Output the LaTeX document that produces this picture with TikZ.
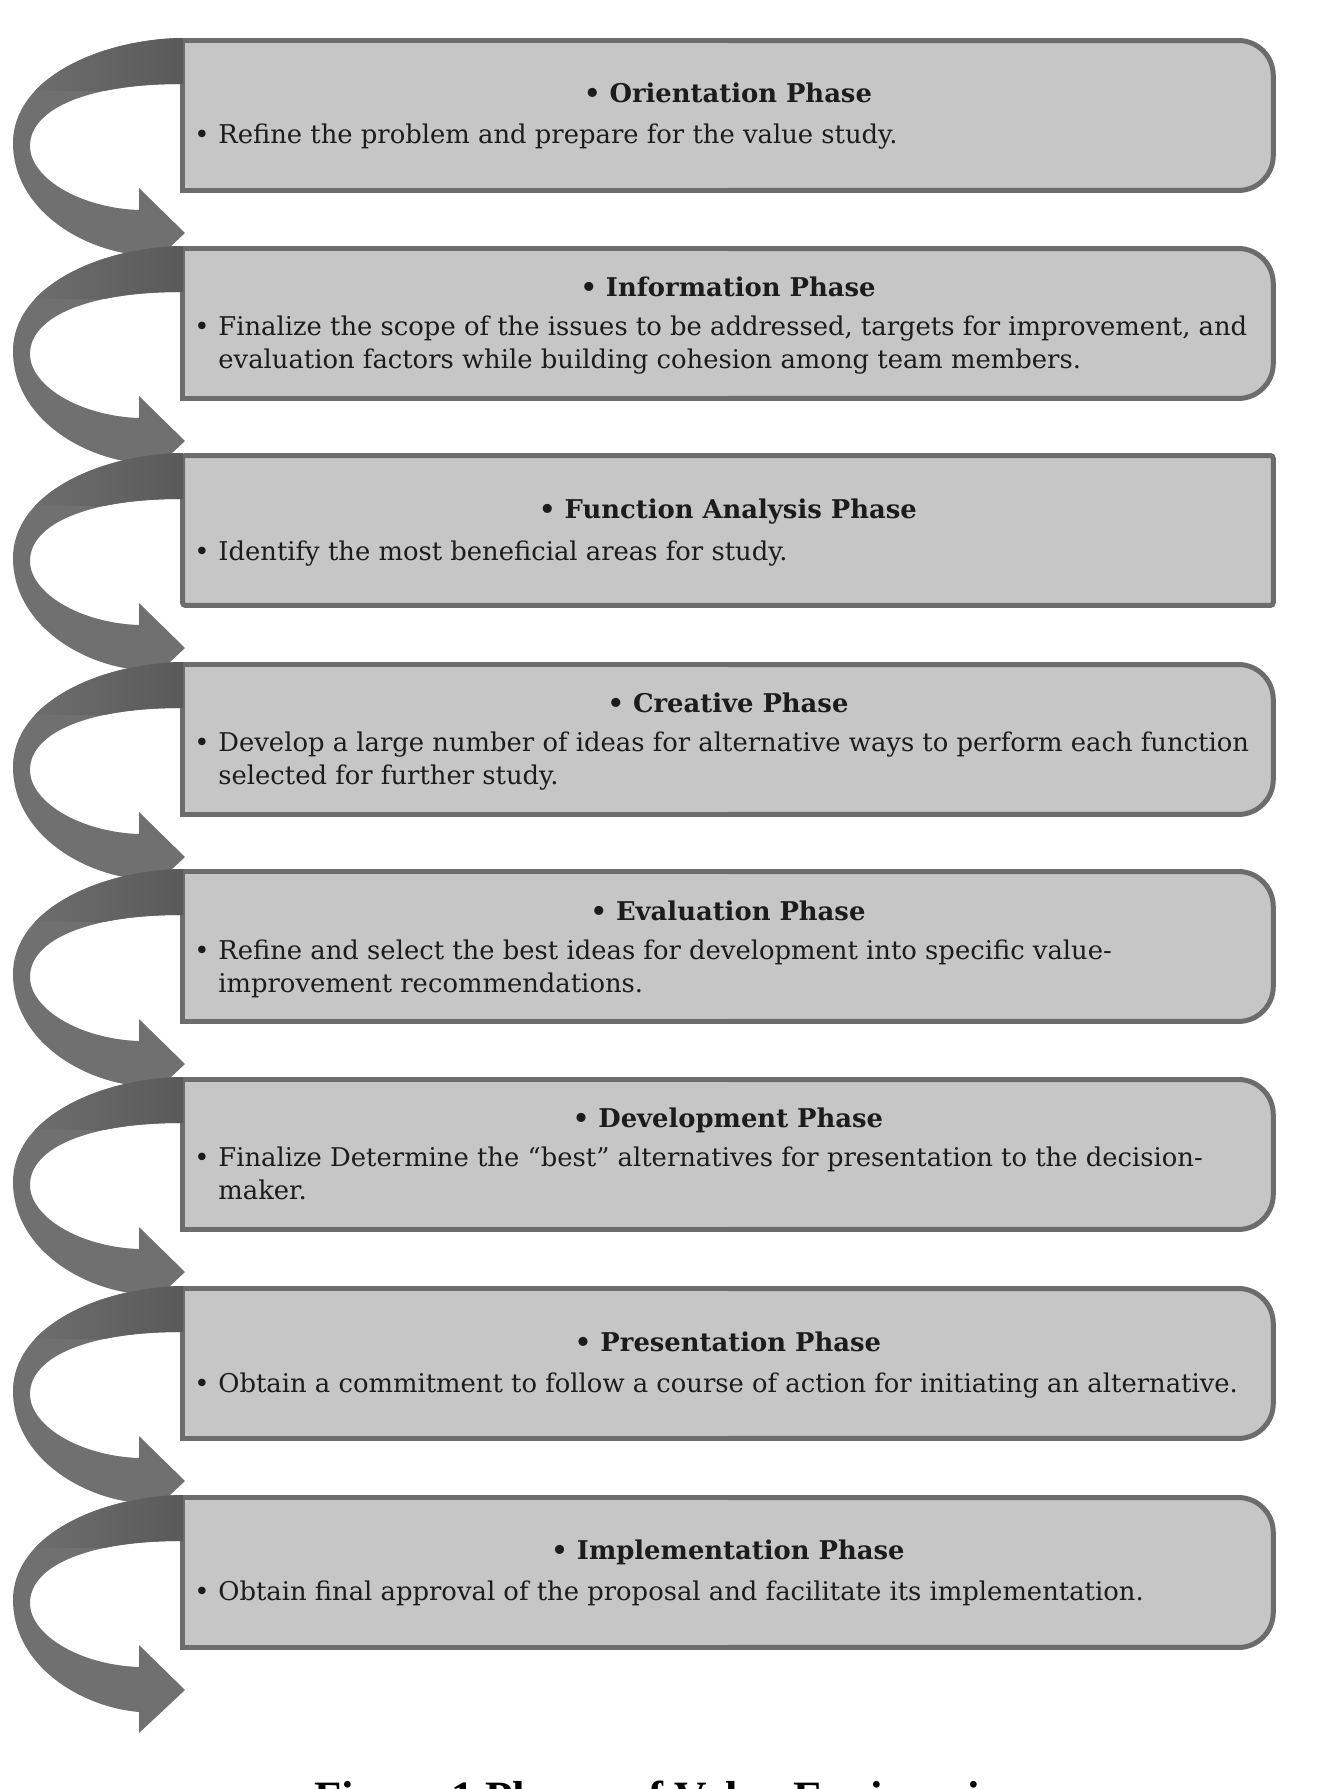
\documentclass[tikz,border=0pt]{standalone}
\usepackage{xcolor}
\usepackage{tikz}
\usepackage{fontspec}
\setmainfont{DejaVu Serif}
\newfontfamily\capfont{Liberation Serif}

\definecolor{boxfill}{RGB}{198,198,198}
\definecolor{boxline}{RGB}{108,108,108}
\definecolor{ribbongray}{RGB}{112,112,112}
\definecolor{ribbondark}{RGB}{90,90,90}
\definecolor{textgray}{RGB}{28,28,28}

\begin{document}
\begin{tikzpicture}
    [x=0.02cm, y=-0.02cm,
    phase box/.style={draw=boxline,fill=boxfill,line width=0.1cm,rounded corners=0.7cm,
        minimum width=21.82cm,minimum height=3cm,inner sep=0pt,outer sep=0pt,anchor=north west},
    flat box/.style={phase box,rounded corners=0.06cm},
    box cover/.style={draw=boxline,fill=boxfill,line width=0.1cm},
    phase title/.style={anchor=base,inner sep=0pt,text=textgray,font=\bfseries\fontsize{14.7}{19.2}\selectfont},
    phase text/.style={anchor=base west,inner sep=0pt,text=textgray,font=\fontsize{14.7}{19.2}\selectfont},
    caption/.style={anchor=base,inner sep=0pt,font=\capfont\bfseries\fontsize{25.5}{30}\selectfont},
    ribbon/.pic={
        \fill[ribbongray] (3,0) -- (0,0) .. controls (-80,2) and (-167,40) .. (-167,105)
            .. controls (-167,170) and (-100,212) .. (-41,217) -- (-41,238) -- (5,195)
            -- (-41,150) -- (-41,172) .. controls (-100,170) and (-150,140) .. (-150,108)
            .. controls (-150,70) and (-90,46) .. (0,46) -- (3,46) -- cycle;
        %darker back of the ribbon
        \begin{scope}
            \clip (-170,-5) rectangle (4,52);
            \shade[left color=ribbongray,middle color=ribbongray,right color=ribbondark]
                (3,0) -- (0,0) .. controls (-80,2) and (-167,40) .. (-167,105) -- (-150,108)
                .. controls (-150,70) and (-90,46) .. (0,46) -- (3,46) -- cycle;
        \end{scope}
    }]

\useasboundingbox (0,0) rectangle (1341,1789);
\clip (0,0) rectangle (1341,1789);

%draw the phase boxes
\node[phase box] (orient) at (182.5,40.5) {};
\node[phase box] (inform) at (182.5,248.5) {};
\node[flat box] (funcan) at (182.5,455.5) {};
\node[phase box] (creative) at (182.5,664.5) {};
\node[phase box] (evaluate) at (182.5,871.5) {};
\node[phase box] (develop) at (182.5,1079.5) {};
\node[phase box] (present) at (182.5,1288.5) {};
\node[phase box] (implement) at (182.5,1497.5) {};

%square off the left corners
\filldraw[box cover] (orient.north) -- (orient.north west) -- (orient.south west) -- (orient.south);
\filldraw[box cover] (inform.north) -- (inform.north west) -- (inform.south west) -- (inform.south);
\filldraw[box cover] (creative.north) -- (creative.north west) -- (creative.south west) -- (creative.south);
\filldraw[box cover] (evaluate.north) -- (evaluate.north west) -- (evaluate.south west) -- (evaluate.south);
\filldraw[box cover] (develop.north) -- (develop.north west) -- (develop.south west) -- (develop.south);
\filldraw[box cover] (present.north) -- (present.north west) -- (present.south west) -- (present.south);
\filldraw[box cover] (implement.north) -- (implement.north west) -- (implement.south west) -- (implement.south);

%curved arrows from each box down to the next
\pic at ([shift={(-2.5,-2.5)}]orient.north west) {ribbon};
\pic at ([shift={(-2.5,-2.5)}]inform.north west) {ribbon};
\pic at ([shift={(-2.5,-2.5)}]funcan.north west) {ribbon};
\pic at ([shift={(-2.5,-2.5)}]creative.north west) {ribbon};
\pic at ([shift={(-2.5,-2.5)}]evaluate.north west) {ribbon};
\pic at ([shift={(-2.5,-2.5)}]develop.north west) {ribbon};
\pic at ([shift={(-2.5,-2.5)}]present.north west) {ribbon};
\pic at ([shift={(-2.5,-2.5)}]implement.north west) {ribbon};

%titles and descriptions
\node[phase title] (orient title) at (728,102) {\textbullet\ Orientation Phase};
\node[phase text] (orient text) at (194,143) {\textbullet\hspace{5pt}Refine the problem and prepare for the value study.};

\node[phase title] (inform title) at (728,296) {\textbullet\ Information Phase};
\node[phase text] (inform text) at (194,335) {\begin{tabular}[t]{@{}l@{\hspace{5pt}}l@{}}
    \textbullet & Finalize the scope of the issues to be addressed, targets for improvement, and\\
    & evaluation factors while building cohesion among team members.\end{tabular}};

\node[phase title] (funcan title) at (728,518) {\textbullet\ Function Analysis Phase};
\node[phase text] (funcan text) at (194,560) {\textbullet\hspace{5pt}Identify the most beneficial areas for study.};

\node[phase title] (creative title) at (728,712) {\textbullet\ Creative Phase};
\node[phase text] (creative text) at (194,751) {\begin{tabular}[t]{@{}l@{\hspace{5pt}}l@{}}
    \textbullet & Develop a large number of ideas for alternative ways to perform each function\\
    & selected for further study.\end{tabular}};

\node[phase title] (evaluate title) at (728,920) {\textbullet\ Evaluation Phase};
\node[phase text] (evaluate text) at (194,959) {\begin{tabular}[t]{@{}l@{\hspace{5pt}}l@{}}
    \textbullet & Refine and select the best ideas for development into specific value-\\
    & improvement recommendations.\end{tabular}};

\node[phase title] (develop title) at (728,1127) {\textbullet\ Development Phase};
\node[phase text] (develop text) at (194,1166) {\begin{tabular}[t]{@{}l@{\hspace{5pt}}l@{}}
    \textbullet & Finalize Determine the “best” alternatives for presentation to the decision-\\
    & maker.\end{tabular}};

\node[phase title] (present title) at (728,1351) {\textbullet\ Presentation Phase};
\node[phase text] (present text) at (194,1392) {\textbullet\hspace{5pt}Obtain a commitment to follow a course of action for initiating an alternative.};

\node[phase title] (implement title) at (728,1559) {\textbullet\ Implementation Phase};
\node[phase text] (implement text) at (194,1600) {\textbullet\hspace{5pt}Obtain final approval of the proposal and facilitate its implementation.};

%figure caption, cut by the lower edge
\node[caption] (fig caption) at (671,1812) {Figure 1 Phases of Value Engineering};

\end{tikzpicture}
\end{document}
